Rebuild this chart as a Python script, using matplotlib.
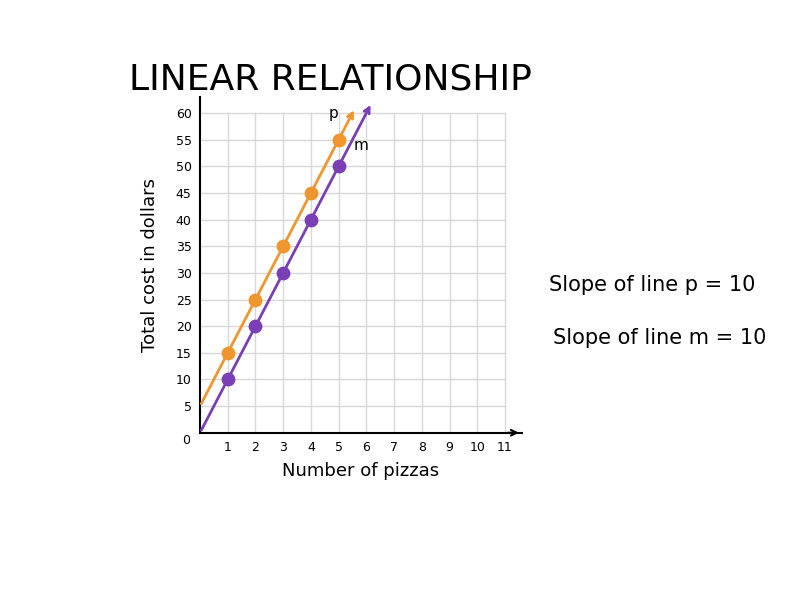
import numpy as np
import matplotlib.pyplot as plt

# Data
pizzas = [1, 2, 3, 4, 5]
cost_p = [15, 25, 35, 45, 55]
cost_m = [10, 20, 30, 40, 50]
line_p_x = [0, 5.6]
line_m_x = [0, 6.2]
orange = '#f0962e'
purple = '#7a3fb5'

fig = plt.figure(figsize=(8, 5.92), dpi=100)
ax = fig.add_axes([0.25, 0.269, 0.402, 0.567])
ax.set_xlim(0, 11.6)
ax.set_ylim(0, 63)

ax.set_xticks(range(1, 12))
ax.set_yticks(range(0, 61, 5))
ax.set_yticklabels([''] + [str(v) for v in range(5, 61, 5)])
ax.tick_params(length=0, labelsize=9, pad=6)
for x in range(1, 12):
    ax.plot([x, x], [0, 60], color='#d8d8d8', lw=1, zorder=0)
for y in range(5, 61, 5):
    ax.plot([0, 11], [y, y], color='#d8d8d8', lw=1, zorder=0)
for s in ['top', 'right']:
    ax.spines[s].set_visible(False)
ax.spines['left'].set_linewidth(1.5)
ax.spines['bottom'].set_linewidth(1.5)
ax.annotate('', xy=(11.6, 0), xytext=(11.0, 0),
            arrowprops=dict(arrowstyle='->', color='black', lw=1.5))
ax.text(-0.5, -1.5, '0', fontsize=9, ha='center', va='center')

ax.annotate('', xy=(line_p_x[1], 10 * line_p_x[1] + 5), xytext=(0, 5),
            arrowprops=dict(arrowstyle='->', color=orange, lw=2), annotation_clip=False)
ax.annotate('', xy=(line_m_x[1], 10 * line_m_x[1]), xytext=(0, 0),
            arrowprops=dict(arrowstyle='->', color=purple, lw=2), annotation_clip=False)
ax.scatter(pizzas, cost_p, s=80, color=orange, zorder=3)
ax.scatter(pizzas, cost_m, s=80, color=purple, zorder=3)
ax.text(4.8, 59, 'p', fontsize=11, ha='center')
ax.text(5.8, 53, 'm', fontsize=11, ha='center')

ax.set_xlabel('Number of pizzas', fontsize=13, labelpad=6)
ax.set_ylabel('Total cost in dollars', fontsize=13, labelpad=12)
fig.text(330 / 800, 1 - 80 / 592, 'LINEAR RELATIONSHIP', fontsize=26, ha='center', va='center')
fig.text(652 / 800, 1 - 285 / 592, 'Slope of line p = 10', fontsize=15, ha='center', va='center')
fig.text(660 / 800, 1 - 338 / 592, 'Slope of line m = 10', fontsize=15, ha='center', va='center')

fig.savefig('out.png', dpi=100)
